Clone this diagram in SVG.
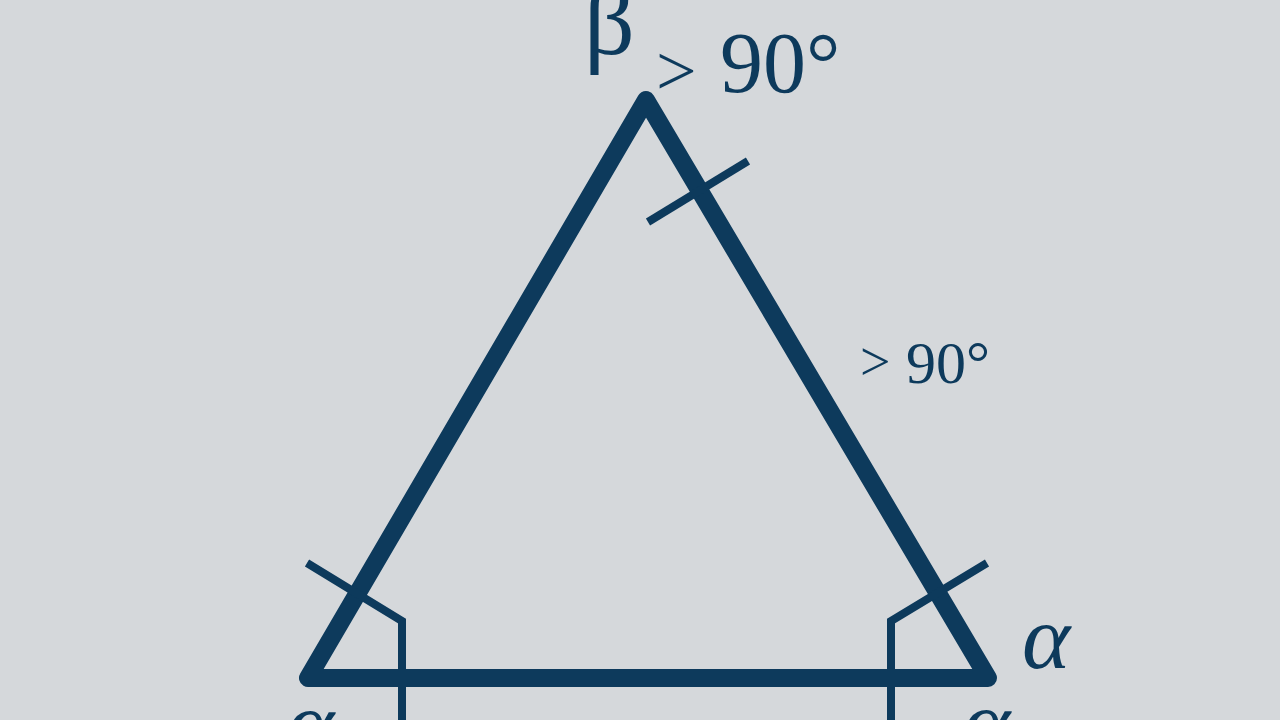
<svg xmlns="http://www.w3.org/2000/svg" width="1280" height="720" viewBox="0 0 1280 720">
  <style>
    .edge { fill: none; stroke: #0d3a5c; stroke-linejoin: round; stroke-linecap: round; }
    .tick { fill: none; stroke: #0d3a5c; stroke-width: 8; stroke-linejoin: miter; stroke-linecap: butt; }
    .lbl { fill: #0d3a5c; font-family: "Liberation Serif", "DejaVu Serif", serif; }
    .greek { fill: #0d3a5c; font-family: "Liberation Serif", "DejaVu Serif", serif; font-style: italic; }
  </style>
  <rect width="1280" height="720" fill="#d5d8db"/>
  <g id="triangle">
    <polygon class="edge" stroke-width="18" points="646,100 308,678 988,678"/>
  </g>
  <g id="connectors">
    <line class="tick" x1="648" y1="222" x2="748" y2="161"/>
    <polyline class="tick" points="307,563 402,621 402,720"/>
    <polyline class="tick" points="987,563 891,621 891,720"/>
  </g>
  <g id="labels">
    <text class="lbl" x="584" y="54" font-size="100">β</text>
    <text class="lbl" x="656" y="95" font-size="72">&gt;</text>
    <text class="lbl" x="720" y="92" font-size="86">90°</text>
    <text class="lbl" x="860" y="380" font-size="54">&gt;</text>
    <text class="lbl" x="906" y="383" font-size="60">90°</text>
    <text class="greek" x="1022" y="668" font-size="92">α</text>
    <text class="greek" x="286" y="754" font-size="92">α</text>
    <text class="greek" x="962" y="753" font-size="92">α</text>
  </g>
</svg>
